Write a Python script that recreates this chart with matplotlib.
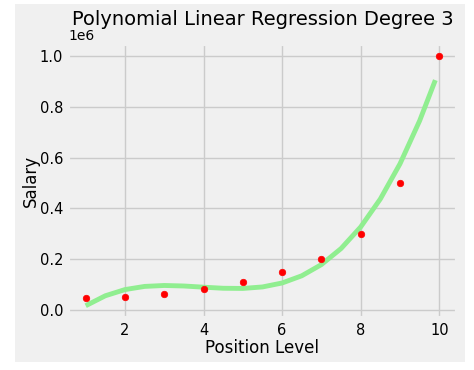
import matplotlib
matplotlib.use('Agg')
import matplotlib.pyplot as plt
from matplotlib.patches import Rectangle

plt.style.use('fivethirtyeight')

# Position_Salaries data
level = [1, 2, 3, 4, 5, 6, 7, 8, 9, 10]
salary = [45000, 50000, 60000, 80000, 110000, 150000, 200000, 300000, 500000, 1000000]

# degree 3 fitted curve, read at half steps
grid_x = [1.0, 1.5, 2.0, 2.5, 3.0, 3.5, 4.0, 4.5, 5.0, 5.5, 6.0, 6.5,
          7.0, 7.5, 8.0, 8.5, 9.0, 9.5, 9.9]
grid_y = [14902, 54333, 78759, 91271, 94958, 92911, 88219, 83973, 83262,
          89177, 104807, 133243, 177574, 240891, 326283, 436841, 575654,
          745813, 906586]

fig = plt.figure(figsize=(4.74, 3.7), dpi=100)
fig.patch.set_facecolor('white')
fig.add_artist(Rectangle((15/474, 8/370), 450/474, 358/370,
                         transform=fig.transFigure, facecolor='#f0f0f0',
                         edgecolor='none', zorder=-10))
ax = fig.add_axes([0.1435, 0.14, 0.8205, 0.741])
ax.set_facecolor('#f0f0f0')

ax.scatter(level, salary, color='red', s=22, zorder=3)
ax.plot(grid_x, grid_y, color='lightgreen', linewidth=3.5, zorder=2)

ax.set_title('Polynomial Linear Regression Degree 3', fontsize=14, pad=14)
ax.set_xlabel('Position Level', fontsize=12, labelpad=1)
ax.set_ylabel('Salary', fontsize=12, labelpad=0)
ax.tick_params(labelsize=10.5)
ax.yaxis.get_offset_text().set_fontsize(10)

fig.savefig('out.png', dpi=100, facecolor=fig.get_facecolor())
